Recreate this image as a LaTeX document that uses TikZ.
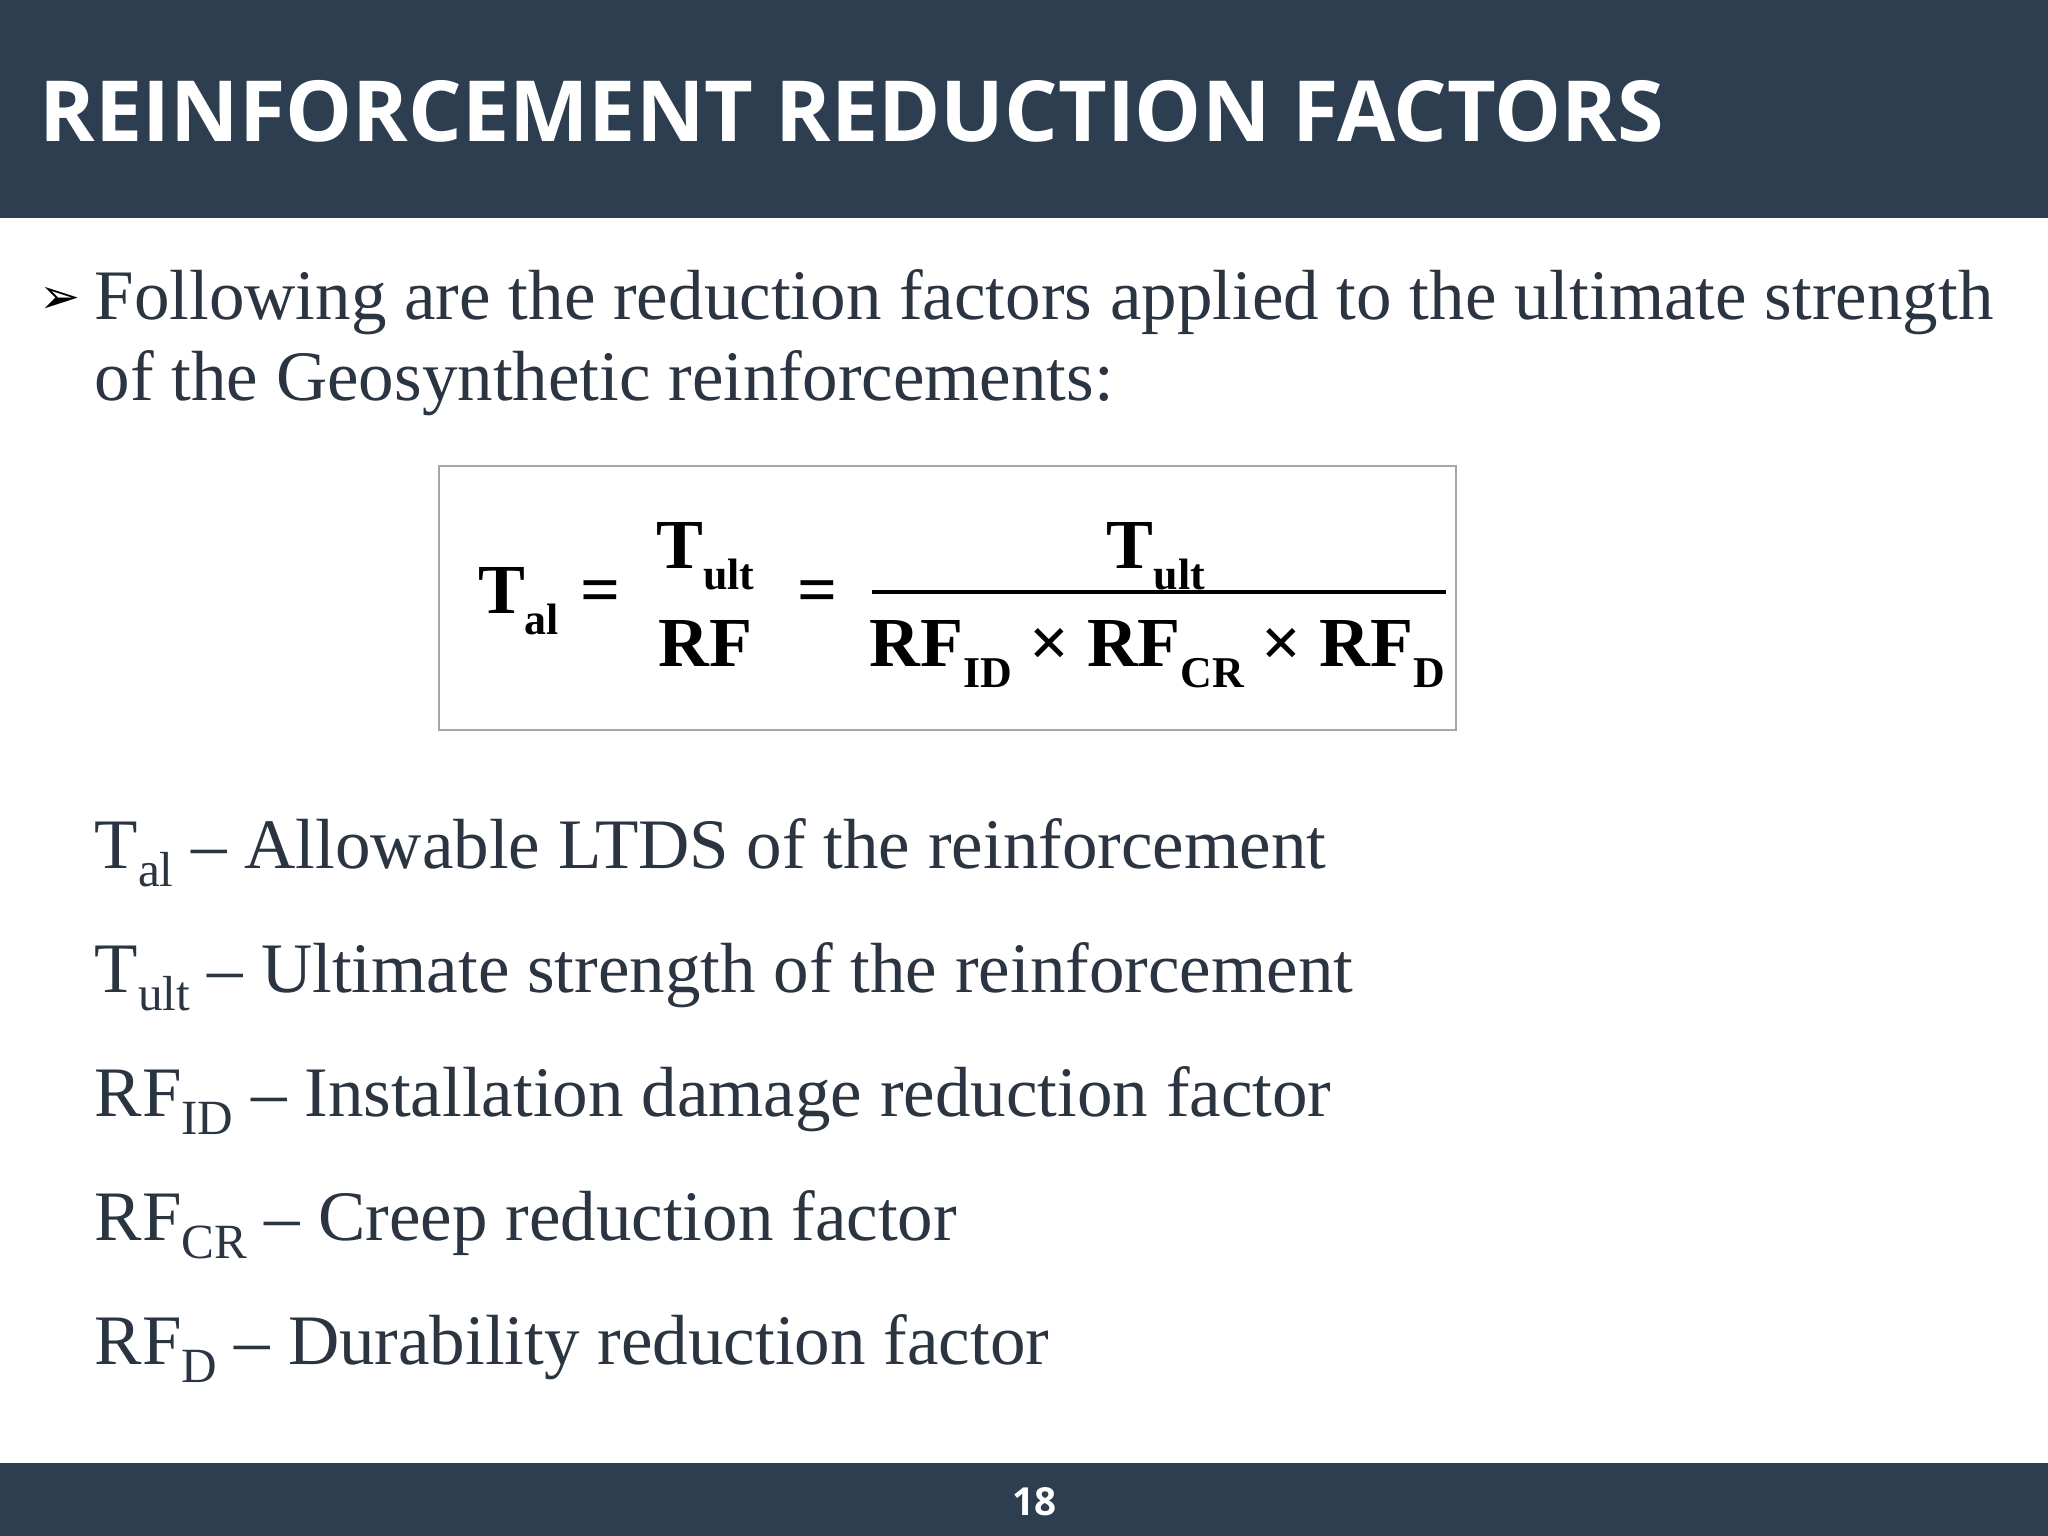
\documentclass[tikz,border=0pt]{standalone}
\usepackage{fontspec}
\setmainfont{Liberation Serif}
\newfontfamily\titlefont{Open Sans}
\newfontfamily\symfont{DejaVu Sans}
\definecolor{band}{HTML}{2C3E50}
\definecolor{txt}{HTML}{2B3441}
\newcommand{\sbx}[1]{\raisebox{-0.25em}{\fontsize{14}{14}\selectfont #1}}
\newcommand{\fsb}[1]{\raisebox{-0.3em}{\fontsize{12.5}{13}\selectfont #1}}
\begin{document}
\begin{tikzpicture}[x=0.013061cm,y=-0.013061cm,
  body/.style={anchor=base west,inner sep=0,text=txt,font=\fontsize{20.2}{24}\selectfont},
  fm/.style={anchor=base,inner sep=0,text=black,font=\bfseries\fontsize{20}{24}\selectfont}]
\useasboundingbox (0,0) rectangle (1568,1176);
\fill[white] (0,0) rectangle (1568,1176);
\fill[band] (0,0) rectangle (1568,167);
\fill[band] (0,1120) rectangle (1568,1176);
\node[anchor=base west,inner sep=0,text=white,font=\titlefont\bfseries\fontsize{24}{30}\selectfont] (title) at (30,108) {REINFORCEMENT REDUCTION FACTORS};
\node[anchor=base,inner sep=0,text=white,font=\titlefont\bfseries\fontsize{11}{13}\selectfont] (pg) at (792,1160) {18};
\node[anchor=base west,inner sep=0,text=black,font=\symfont\fontsize{14}{16}\selectfont] (bul) at (30,240) {➢};
\node[body] (l1) at (72,245) {Following are the reduction factors applied to the ultimate strength};
\node[body] (l2) at (72,307) {of the Geosynthetic reinforcements:};
\node[draw=gray!70,line width=0.5pt,minimum width=779*0.013061cm,minimum height=202*0.013061cm,inner sep=0] (box) at (725.5,458) {};
\node[fm] (tal) at (397,470) {T\fsb{al}};
\node[fm] (eq1) at (460,470) {=};
\node[fm] (n1) at (540,435) {T\fsb{ult}};
\node[fm] (d1) at (540,510) {RF};
\node[fm] (eq2) at (626,470) {=};
\node[fm] (n2) at (885,435) {T\fsb{ult}};
\node[fm] (d2) at (886,510) {RF\fsb{ID} × RF\fsb{CR} × RF\fsb{D}};
\coordinate (b1) at (668,453); \coordinate (b2) at (1107,453);
\draw[line width=1.2pt] (b1) -- (b2);
\node[body] (t1) at (72,665) {T\sbx{al} – Allowable LTDS of the reinforcement};
\node[body] (t2) at (72,760) {T\sbx{ult} – Ultimate strength of the reinforcement};
\node[body] (t3) at (72,855) {RF\sbx{ID} – Installation damage reduction factor};
\node[body] (t4) at (72,950) {RF\sbx{CR} – Creep reduction factor};
\node[body] (t5) at (72,1045) {RF\sbx{D} – Durability reduction factor};
\end{tikzpicture}
\end{document}
